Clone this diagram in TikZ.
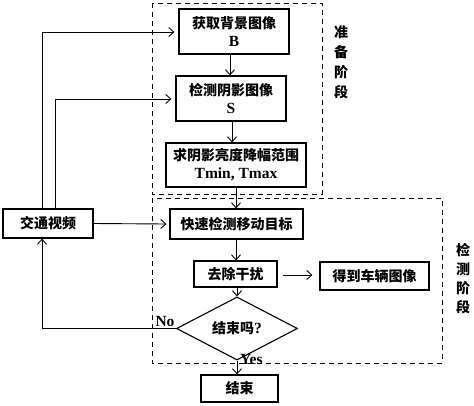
\documentclass[tikz,border=0pt]{standalone}
\usepackage{fontspec}
\setmainfont{Liberation Serif}
\newfontfamily\cjk{Noto Sans CJK SC}
\newcommand\lat{\fontsize{15.5}{18}\selectfont}
\usetikzlibrary{shapes.geometric,arrows.meta}
\begin{document}
\begin{tikzpicture}[x=1pt,y=-1pt,
  every node/.style={font=\fontsize{14}{18}\selectfont\bfseries, inner sep=0pt, align=center},
  box/.style={draw, line width=1.2pt},
  vlabel/.style={font=\cjk\fontsize{14}{20}\selectfont\bfseries},
  arr/.style={line width=0.9pt, -{Straight Barb[length=5pt,width=9pt,line width=0.9pt]}},
  stage/.style={draw, line width=0.8pt, dash pattern=on 5pt off 4pt}
]
\useasboundingbox (0,0) rectangle (474,405);
\fill[white] (0,0) rectangle (474,405);

% stage frames
\draw[stage] (152,3) rectangle (322,194);
\draw[stage] (152,198) rectangle (442,363);
\node[vlabel] (prep) at (341,62) {准\\备\\阶\\段};
\node[vlabel, font=\cjk\fontsize{14}{19}\selectfont\bfseries] (det) at (463,279) {检\\测\\阶\\段};

% nodes
\node[box, minimum width=110pt, minimum height=45pt] (B) at (234,31.5) {{\cjk 获取背景图像}\\{\lat B}};
\node[box, minimum width=110pt, minimum height=45pt] (S) at (231,98.5) {{\cjk 检测阴影图像}\\{\lat S}};
\node[box, minimum width=140pt, minimum height=44pt] (T) at (236,165) {{\cjk 求阴影亮度降幅范围}\\{\lat Tmin, Tmax}};
\node[box, minimum width=90pt, minimum height=29pt] (V) at (48,223.5) {\cjk 交通视频};
\node[box, minimum width=133pt, minimum height=30pt] (F) at (236.5,224) {\cjk 快速检测移动目标};
\node[box, minimum width=83pt, minimum height=26pt] (R) at (235.5,274) {\cjk 去除干扰};
\node[box, minimum width=109pt, minimum height=28pt] (G) at (374.5,276) {\cjk 得到车辆图像};
\node[draw, line width=1.1pt, diamond, minimum width=121pt, minimum height=39pt] (D) at (237,328.5) {{\cjk 结束吗}{\lat ?}};
\node[box, minimum width=77pt, minimum height=27pt] (E) at (239.5,388.5) {\cjk 结束};

\coordinate (c1) at (42,32);
\coordinate (c2) at (55,99);
\coordinate (c3) at (42,328.5);

% connectors
\draw[arr] (B.south -| 230,0) -- (S.north -| 230,0);
\draw[arr] (S.south -| 232,0) -- (T.north -| 232,0);
\draw[arr] (T.south -| 236,0) -- (F.north -| 236,0);
\draw[arr] (V.east) -- ([xshift=-3pt]F.west);
\draw[arr] (F.south -| 236,0) -- (R.north -| 236,0);
\draw[arr] ([xshift=5pt]R.east |- 0,275) -- ([xshift=-7pt]G.west |- 0,275);
\draw[arr] (R.south -| 237,0) -- (D.north);
\draw[arr] (D.south) -- (E.north -| D.south);
\draw[arr] (V.north -| c1) -- (c1) -- ([xshift=-4pt]B.west |- c1);
\draw[arr] (V.north -| c2) -- (c2) -- ([xshift=-4pt]S.west |- c2);
\draw[arr] (D.west) -- (c3) -- (V.south -| c3);

\node[font=\lat\bfseries] (no) at (165,321) {No};
\node[font=\lat\bfseries, anchor=west] (yes) at (240,359) {Yes};
\end{tikzpicture}
\end{document}
